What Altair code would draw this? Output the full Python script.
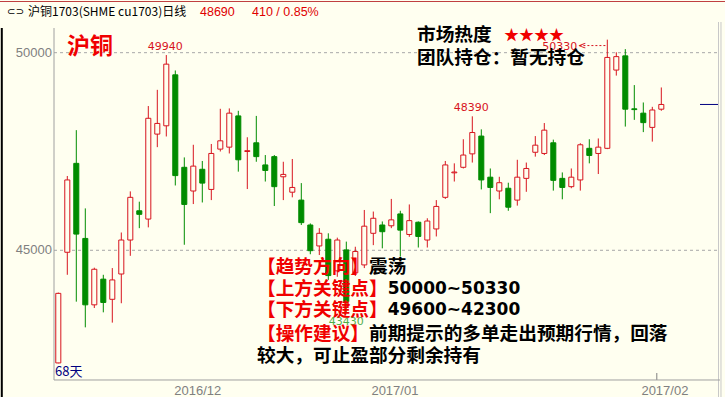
import altair as alt
import pandas as pd

# ---- data (SHFE cu1703 daily) ----
opens = [42150, 44950, 47200, 45300, 43620, 44270, 43760, 44400, 45260, 46000,
         45790, 47940, 48150, 49440, 47100, 46500, 47050, 46540, 47560, 47610,
         48400, 47500, 47720, 47160, 47370, 46860, 46470, 46270, 45640, 45110,
         45280, 44480, 45010, 44430, 44630, 45430, 45640, 45620, 45920, 45400,
         45710, 45260, 45540, 46340, 46960, 47100, 47440, 47890, 46850, 46500,
         46570, 46270, 46820, 47480, 47450, 47720, 46820, 46610, 46780, 47580,
         47450, 47580, 49560, 49920, 48580, 48470, 48110, 48570]
highs = [43930, 46880, 48040, 46060, 44560, 44380, 44550, 45450, 46490, 46230,
         48650, 49060, 49940, 49550, 47350, 47670, 47260, 47690, 48580, 48590,
         48530, 47860, 48400, 47410, 47410, 47240, 47310, 46700, 45680, 45560,
         45430, 45320, 45220, 45090, 46020, 45980, 45730, 46300, 46000, 46160,
         45730, 45810, 46270, 47260, 47200, 47810, 48390, 48060, 47070, 46860,
         46710, 47290, 47220, 47890, 48220, 47800, 46970, 47070, 47710, 47810,
         47830, 50330, 50010, 50090, 49180, 48740, 48630, 49120]
lows = [42140, 44380, 43700, 43050, 43540, 43430, 43170, 43660, 44860, 45560,
        45580, 47610, 47880, 46640, 45140, 46170, 46210, 46270, 47500, 47450,
        46990, 46550, 47240, 46740, 46120, 46270, 46340, 45640, 44900, 44880,
        44250, 44330, 43430, 44350, 44550, 45130, 45050, 45560, 44840, 45340,
        45070, 45070, 45350, 46300, 46740, 47070, 47220, 46540, 45940, 46290,
        46000, 46130, 46480, 47370, 47410, 46510, 46290, 46570, 46510, 47200,
        46930, 47560, 49420, 48130, 48300, 47990, 47750, 48530]
closes = [43910, 46780, 45410, 43620, 44520, 43680, 44250, 45260, 46340, 45910,
          48340, 48210, 49710, 46890, 46160, 47130, 46700, 47450, 47770, 48470,
          47290, 47520, 47370, 47020, 46610, 46920, 46590, 45700, 44990, 45430,
          44360, 45260, 43700, 44970, 45610, 45810, 45470, 45770, 45510, 45750,
          45350, 45740, 46110, 47160, 46980, 47410, 47980, 46780, 46590, 46710,
          46090, 46850, 47070, 47660, 48040, 46770, 46590, 46850, 47670, 47400,
          47610, 49880, 49900, 48570, 48560, 48230, 48550, 48690]

month_pos = [15.5, 37.4, 67.4]
month_labels = ["2016/12", "2017/01", "2017/02"]
month_tick_pos = [66.5]
y_ticks = [45000, 50000]
high_marks = [12, 46]          # candles whose high is labelled
arrow_mark = 61                # candle with the arrow label
low_mark = 32                  # candle with the low label

RED = "#D7141E"
GREEN = "#008C00"
BG = "#FFFFF0"
TXT_RED = "#F00000"
AX = "#A0A0A0"
CJK = "Noto Sans CJK SC"

# plot-area extent (candle index / price) and the whole-page extent
X_MIN, X_MAX = -0.4778, 73.522
Y_MIN, Y_MAX = 41718, 50574
PX = 25.304  # price units per pixel
XP0, XP1 = X_MIN - 54 / 9, X_MAX + 5 / 9
YP0, YP1 = Y_MIN - 17 * PX, Y_MAX + 30 * PX

df = pd.DataFrame({"i": list(range(len(opens))), "open": opens, "high": highs,
                   "low": lows, "close": closes})
df["dir"] = ["up" if c >= o else "down" for o, c in zip(opens, closes)]

xs = alt.Scale(domain=[XP0, XP1], range=[-54, 671], nice=False, zero=False)
ys = alt.Scale(domain=[YP0, YP1], range=[367, -30], nice=False, zero=False)


def X(f):
    return alt.X(f, scale=xs, axis=None)


def Y(f):
    return alt.Y(f, scale=ys, axis=None)


dir_stroke = alt.Scale(domain=["up", "down"], range=[RED, GREEN])
dir_fill = alt.Scale(domain=["up", "down"], range=[BG, GREEN])

# ---- axes, grid and frame (drawn through the same scales) ----
grid = alt.Chart(pd.DataFrame({"v": y_ticks})).mark_rule(
    color="#A8A8A8", strokeDash=[3, 3], strokeWidth=1
).encode(y=Y("v:Q"), x=alt.value(0), x2=alt.value(666))

ylab = alt.Chart(pd.DataFrame({"v": y_ticks})).mark_text(
    align="right", baseline="middle", font="Liberation Sans", fontSize=13, color="#808080"
).encode(y=Y("v:Q"), x=alt.value(-2), text=alt.Text("v:Q", format="d"))

xlab = alt.Chart(pd.DataFrame({"p": month_pos, "l": month_labels})).mark_text(
    align="center", baseline="middle", font="Liberation Sans", fontSize=13, color="#808080"
).encode(x=X("p:Q"), y=alt.value(361), text="l:N")

mtick = alt.Chart(pd.DataFrame({"p": month_tick_pos})).mark_rule(color="#808080").encode(
    x=X("p:Q"), y=alt.value(343), y2=alt.value(350)
)

# frame: y-axis line, double right border, x-axis line
vl = pd.DataFrame({
    "x": [X_MIN, 73.356, 73.63],
    "y0": [Y_MIN, YP0, YP0],
    "y1": [Y_MAX + 2 * PX, Y_MAX + 8 * PX, Y_MAX + 8 * PX],
    "c": ["axis", "right", "right"],
})
vlines = alt.Chart(vl).mark_rule(strokeWidth=1).encode(
    x=X("x:Q"), y=Y("y0:Q"), y2="y1:Q",
    stroke=alt.Stroke("c:N", scale=alt.Scale(domain=["axis", "right"],
                                             range=[AX, "#C8C8C8"]), legend=None),
)
axis_h = alt.Chart(pd.DataFrame({"y": [Y_MIN], "x0": [X_MIN], "x1": [X_MAX]})).mark_rule(
    color=AX, strokeWidth=1).encode(y=Y("y:Q"), x=X("x0:Q"), x2="x1:Q")

# black left border and thin top line as filled strips
strips = alt.Chart(pd.DataFrame({
    "x0": [XP0 + 0.8 / 9, XP0], "x1": [XP0 + 2.8 / 9, XP1],
    "y0": [YP0, YP1 - 2 * PX], "y1": [Y_MAX + 2 * PX, YP1 - 1 * PX],
    "c": ["border", "top"],
})).mark_rect().encode(
    x=X("x0:Q"), x2="x1:Q", y=Y("y0:Q"), y2="y1:Q",
    fill=alt.Fill("c:N", scale=alt.Scale(domain=["border", "top"], range=["#000000", "#C04040"]),
                  legend=None),
)

# ---- candles ----
base = alt.Chart(df)

wick = base.mark_rule(strokeWidth=1).encode(
    x=X("i:Q"), y=Y("low:Q"), y2="high:Q",
    color=alt.Color("dir:N", scale=dir_stroke, legend=None),
)

body = base.transform_calculate(
    xa="datum.i - 0.28", xb="datum.i + 0.28"
).mark_rect(strokeWidth=1).encode(
    x=X("xa:Q"), x2="xb:Q", y=Y("open:Q"), y2="close:Q",
    fill=alt.Fill("dir:N", scale=dir_fill, legend=None),
    stroke=alt.Stroke("dir:N", scale=dir_stroke, legend=None),
)

hi_lab = base.transform_filter(
    alt.FieldOneOfPredicate(field="i", oneOf=high_marks)
).mark_text(font="DejaVu Sans", fontSize=11, color=RED, baseline="bottom", dy=-3, dx=-1).encode(
    x=X("i:Q"), y=Y("high:Q"), text="high:N",
)

arr = base.transform_filter(alt.datum.i == arrow_mark)
arrow_lab = arr.mark_text(font="DejaVu Sans", fontSize=11, color=RED, align="right",
                          baseline="middle", dx=-30, dy=7).encode(
    x=X("i:Q"), y=Y("high:Q"), text="high:N",
)
arrow_line = arr.transform_calculate(
    xa="datum.i - 3.1", ya="datum.high - 150"
).mark_rule(color=RED, strokeDash=[2, 2], strokeWidth=1).encode(
    x=X("xa:Q"), x2="i:Q", y=Y("ya:Q"),
)
arrow_head = arr.transform_calculate(
    xa="datum.i - 3.25", ya="datum.high - 150"
).mark_text(text="<", font="DejaVu Sans", fontSize=10, color=RED, align="left",
            baseline="middle").encode(
    x=X("xa:Q"), y=Y("ya:Q"),
)

low_lab = base.transform_filter(alt.datum.i == low_mark).mark_text(
    font="DejaVu Sans", fontSize=11, color=GREEN, baseline="top", dy=4, opacity=0.7
).encode(
    x=X("i:Q"), y=Y("low:Q"), text="low:N",
)

last = base.transform_filter(alt.datum.i == len(opens) - 1)
last_line = last.transform_calculate(
    xa="datum.i + 4.3", xb="datum.i + 6.3"
).mark_rule(color="#000080", strokeWidth=1).encode(
    x=X("xa:Q"), x2="xb:Q", y=Y("close:Q"),
)


def txt(s, x, y, **kw):
    return alt.Chart(pd.DataFrame({"t": [s]})).mark_text(
        align="left", baseline="middle", **kw
    ).encode(x=alt.value(x), y=alt.value(y), text="t:N")


FS = 18.67
texts = [
    txt("⊂⊃", -47, -18.5, font="DejaVu Sans", fontSize=10, color="#000000"),
    txt("沪铜1703(SHME cu1703)日线", -26, -18.5, font=CJK, fontSize=12, color="#000000"),
    txt("48690", 146, -18.5, font="Liberation Sans", fontSize=12.5, color="#E00000"),
    txt("410 / 0.85%", 198, -18.5, font="Liberation Sans", fontSize=12.5, color="#E00000"),
    txt("沪铜", 13, 16.5, font=CJK, fontSize=23, fontWeight="bold", color=TXT_RED),
    txt("市场热度", 363, 5, font=CJK, fontSize=FS, fontWeight="bold", color="#000000"),
    txt("★★★★", 450, 5, font=CJK, fontSize=15, color=TXT_RED),
    txt("团队持仓：暂无持仓", 363, 27.5, font=CJK, fontSize=FS, fontWeight="bold", color="#000000"),
    txt("【趋势方向】", 203, 236.5, font=CJK, fontSize=FS, fontWeight="bold", color=TXT_RED),
    txt("震荡", 203 + 6 * FS, 236.5, font=CJK, fontSize=FS, fontWeight="bold", color="#000000"),
    txt("【上方关键点】", 203, 258.5, font=CJK, fontSize=FS, fontWeight="bold", color=TXT_RED),
    txt("50000~50330", 203 + 7 * FS, 258.5, font="DejaVu Sans", fontSize=17, fontWeight="bold", color="#000000"),
    txt("【下方关键点】", 203, 280, font=CJK, fontSize=FS, fontWeight="bold", color=TXT_RED),
    txt("49600~42300", 203 + 7 * FS, 280, font="DejaVu Sans", fontSize=17, fontWeight="bold", color="#000000"),
    txt("【操作建议】", 203, 303.5, font=CJK, fontSize=FS, fontWeight="bold", color=TXT_RED),
    txt("前期提示的多单走出预期行情，回落", 203 + 6 * FS, 303.5, font=CJK, fontSize=FS, fontWeight="bold", color="#000000"),
    txt("较大，可止盈部分剩余持有", 203, 325.5, font=CJK, fontSize=FS, fontWeight="bold", color="#000000"),
    txt("68天", 1, 341.5, font=CJK, fontSize=13, color="#000080"),
]

chart = alt.layer(
    grid, ylab, xlab, mtick, vlines, axis_h, strips,
    wick, body, hi_lab, arrow_line, arrow_head, arrow_lab, low_lab, last_line,
    *texts
).resolve_scale(
    color="independent", stroke="independent", fill="independent"
).properties(
    width=666, height=350,
    autosize=alt.AutoSizeParams(type="none"),
    padding={"left": 54, "top": 30, "right": 5, "bottom": 17},
    background=BG,
).configure_view(stroke=None)

chart.save("out.html", embed_options={"renderer": "svg", "actions": False})
